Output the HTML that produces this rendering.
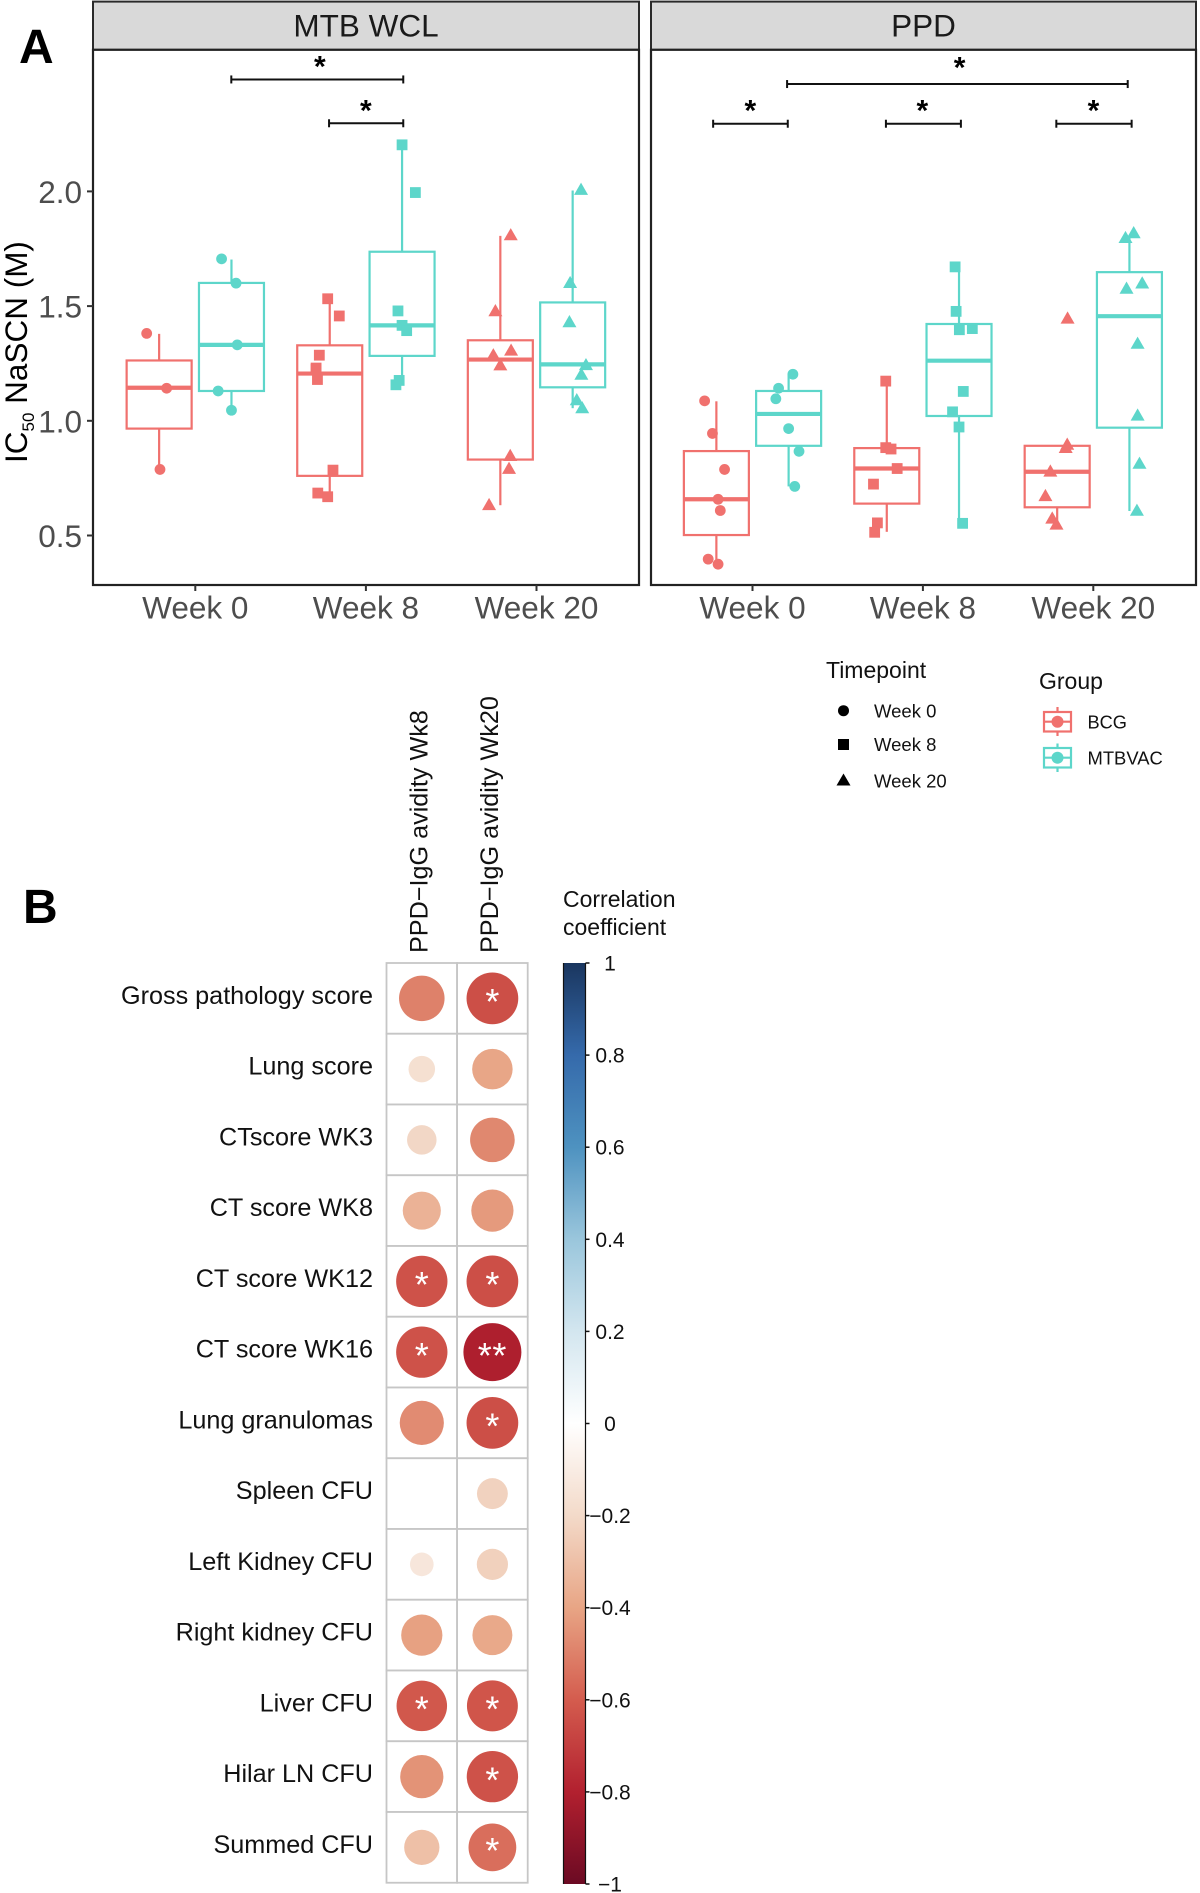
<!DOCTYPE html>
<html lang="en">
<head>
<meta charset="utf-8">
<title>IC50 NaSCN boxplots and correlation matrix</title>
<style>
html,body{margin:0;padding:0;background:#fff}
svg{display:block;font-family:"Liberation Sans",Arial,sans-serif}
</style>
</head>
<body>
<svg id="fig" xmlns="http://www.w3.org/2000/svg" width="1200" height="1893" viewBox="0 0 1200 1893">
<defs>
<linearGradient id="cbar" x1="0" y1="1" x2="0" y2="0"></linearGradient>
</defs>
<rect x="0" y="0" width="1200" height="1893" fill="#fff"/>
<text x="19" y="63" font-size="48" font-weight="bold" fill="#000">A</text>
<text x="23" y="923" font-size="48" font-weight="bold" fill="#000">B</text>
<text transform="translate(27,463) rotate(-90)" font-size="31.5" fill="#000">IC<tspan dy="7" font-size="17">50</tspan><tspan dy="-7"> NaSCN (M)</tspan></text>

<g>
<text x="826" y="678" font-size="23" fill="#111">Timepoint</text>
<circle cx="843.5" cy="710.7" r="5.5" fill="#000"/>
<rect x="838" y="739" width="11" height="11" fill="#000"/>
<polygon points="836.5,785.5 850.5,785.5 843.5,773.5" fill="#000"/>
<text x="874" y="717.5" font-size="18.5" fill="#111">Week 0</text>
<text x="874" y="751" font-size="18.5" fill="#111">Week 8</text>
<text x="874" y="787.5" font-size="18.5" fill="#111">Week 20</text>
</g>

<g>
<text x="1039" y="689" font-size="23" fill="#111">Group</text>
<g fill="none" stroke="#F0716E" stroke-width="2.2">
<line x1="1057.5" x2="1057.5" y1="707" y2="736"/>
<rect x="1044" y="712" width="27" height="19.5" fill="#fff"/>
<line x1="1044" x2="1071" y1="721.7" y2="721.7"/>
<circle cx="1057.5" cy="721.7" r="6" fill="#F0716E" stroke="none"/>
</g>
<g fill="none" stroke="#5DD6CA" stroke-width="2.2">
<line x1="1057.5" x2="1057.5" y1="743.5" y2="772"/>
<rect x="1044" y="748" width="27" height="19.5" fill="#fff"/>
<line x1="1044" x2="1071" y1="757.7" y2="757.7"/>
<circle cx="1057.5" cy="757.7" r="6" fill="#5DD6CA" stroke="none"/>
</g>
<text x="1087.5" y="728.3" font-size="18.2" fill="#111">BCG</text>
<text x="1087.5" y="764.3" font-size="18.4" fill="#111">MTBVAC</text>
</g>

<text x="563" y="907" font-size="23" fill="#111">Correlation</text>
<text x="563" y="935" font-size="23" fill="#111">coefficient</text>
</svg>

<script>
// ---------- Panel A data ----------
const weeks = ['Week 0', 'Week 8', 'Week 20'];
const yTicks = [0.5, 1.0, 1.5, 2.0];
const yTickLabels = ['0.5', '1.0', '1.5', '2.0'];
const panelTitles = ['MTB WCL', 'PPD'];

// box stats per week: low whisker, q1, median, q3, high whisker
const wclBcgBox = [[0.788, 0.966, 1.144, 1.263, 1.379], [0.669, 0.760, 1.206, 1.329, 1.532], [0.632, 0.831, 1.267, 1.351, 1.806]];
const wclMtbBox = [[1.046, 1.130, 1.331, 1.601, 1.703], [1.157, 1.283, 1.416, 1.737, 2.203], [1.055, 1.146, 1.246, 1.516, 2.004]];
const ppdBcgBox = [[0.375, 0.502, 0.658, 0.868, 1.085], [0.516, 0.639, 0.792, 0.881, 1.173], [0.530, 0.623, 0.778, 0.891, 0.891]];
const ppdMtbBox = [[0.714, 0.891, 1.030, 1.130, 1.203], [0.553, 1.021, 1.262, 1.422, 1.671], [0.607, 0.970, 1.456, 1.648, 1.802]];

// individual animals per week
const wclBcgValues = [[1.381, 1.142, 0.788], [1.532, 1.457, 1.286, 1.230, 1.224, 1.180, 0.785, 0.685, 0.669], [1.813, 1.482, 1.310, 1.290, 1.246, 0.851, 0.795, 0.637]];
const wclBcgJitter = [[-0.073, 0.044, 0.005], [-0.012, 0.056, -0.061, -0.08, -0.08, -0.072, 0.019, -0.07, -0.012], [0.061, -0.029, 0.063, -0.041, 0, 0.058, 0.051, -0.066]];
const wclMtbValues = [[1.706, 1.600, 1.331, 1.130, 1.046], [2.203, 1.995, 1.479, 1.416, 1.393, 1.176, 1.157], [2.011, 1.605, 1.434, 1.247, 1.205, 1.094, 1.059]];
const wclMtbJitter = [[-0.058, 0.027, 0.034, -0.078, 0], [0, 0.078, -0.024, 0, 0.027, -0.017, -0.036], [0.049, -0.015, -0.019, 0.078, 0.051, 0.024, 0.056]];
const ppdBcgValues = [[1.087, 0.945, 0.788, 0.658, 0.609, 0.397, 0.375], [1.173, 0.883, 0.877, 0.792, 0.724, 0.555, 0.514], [1.450, 0.900, 0.886, 0.783, 0.676, 0.578, 0.552]];
const ppdBcgJitter = [[-0.069, -0.023, 0.048, 0.01, 0.023, -0.048, 0.01], [-0.006, -0.006, 0.025, 0.061, -0.078, -0.055, -0.071], [0.061, 0.059, 0.05, -0.04, -0.069, -0.029, -0.004]];
const ppdMtbValues = [[1.203, 1.142, 1.096, 0.966, 0.867, 0.714], [1.671, 1.477, 1.397, 1.402, 1.128, 1.039, 0.973, 0.553], [1.822, 1.801, 1.603, 1.580, 1.340, 1.027, 0.817, 0.612]];
const ppdMtbJitter = [[0.025, -0.059, -0.075, 0, 0.061, 0.036], [-0.023, -0.017, 0.002, 0.078, 0.025, -0.038, 0, 0.021], [0.025, -0.023, 0.075, -0.017, 0.048, 0.048, 0.059, 0.044]];

// significance brackets: start and end on the week axis, heights on the value axis
const wclBracketFrom = [0.211, 0.784];
const wclBracketTo = [1.219, 1.219];
const wclBracketLevel = [2.488, 2.297];
const wclStarAt = [0.730, 1.000];
const wclStarLevel = [2.501, 2.310];
const ppdBracketFrom = [0.203, -0.231, 0.783, 1.783];
const ppdBracketTo = [2.202, 0.207, 1.223, 2.225];
const ppdBracketLevel = [2.468, 2.295, 2.295, 2.295];
const ppdStarAt = [1.215, -0.013, 0.997, 2.001];
const ppdStarLevel = [2.497, 2.308, 2.308, 2.308];

// ---------- Panel B data ----------
const rowNames = ['Gross pathology score', 'Lung score', 'CTscore WK3', 'CT score WK8', 'CT score WK12', 'CT score WK16', 'Lung granulomas', 'Spleen CFU', 'Left Kidney CFU', 'Right kidney CFU', 'Liver CFU', 'Hilar LN CFU', 'Summed CFU'];
const columnNames = ['PPD\u2212IgG avidity Wk8', 'PPD\u2212IgG avidity Wk20'];
const corrWk8 = [-0.50, -0.17, -0.21, -0.35, -0.635, -0.635, -0.47, 0, -0.135, -0.41, -0.615, -0.45, -0.30];
const corrWk20 = [-0.645, -0.395, -0.48, -0.43, -0.645, -0.81, -0.645, -0.23, -0.235, -0.385, -0.625, -0.635, -0.55];
const sigWk8 = ['', '', '', '', '*', '*', '', '', '', '', '*', '', ''];
const sigWk20 = ['*', '', '', '', '*', '**', '*', '', '', '', '*', '*', '*'];
const colorbarTicks = [1, 0.8, 0.6, 0.4, 0.2, 0, -0.2, -0.4, -0.6, -0.8, -1];
const colorbarTickLabels = ['1', '0.8', '0.6', '0.4', '0.2', '0', '\u22120.2', '\u22120.4', '\u22120.6', '\u22120.8', '\u22121'];
const paletteValues = [-1, -0.8, -0.6, -0.4, -0.2, 0, 0.2, 0.4, 0.6, 0.8, 1];
const paletteColors = ['#6B0A23', '#B2202F', '#D45C4E', '#E8A585', '#F3DAC9', '#FFFFFF', '#D3E6EF', '#9AC6DC', '#4E92C0', '#356AAB', '#1A365F'];

// ---------- Helpers ----------
const NS = 'http://www.w3.org/2000/svg';
const fig = document.getElementById('fig');
const BCG = '#F0716E';
const MTB = '#5DD6CA';
const TEXT_GREY = '#4D4D4D';

function make(tag, attrs, parent, text) {
  const el = document.createElementNS(NS, tag);
  for (const k in attrs) el.setAttribute(k, attrs[k]);
  if (text !== undefined) el.textContent = text;
  parent.appendChild(el);
  return el;
}

const yScale = v => 535.5 - (v - 0.5) * 229.4;
const PANEL_TOP = 49.8;
const PANEL_BOTTOM = 585;
const DODGE = 0.212;
const BOX_W = 65;

function drawMark(group, weekIndex, cx, cy, color) {
  let el;
  if (weekIndex === 0) {
    el = make('circle', {cx: cx, cy: cy, r: 5.4, fill: color}, group);
  } else if (weekIndex === 1) {
    el = make('rect', {x: cx - 5.4, y: cy - 5.4, width: 10.8, height: 10.8, fill: color}, group);
  } else {
    el = make('polygon', {points: `${cx - 7},${cy + 6} ${cx + 7},${cy + 6} ${cx},${cy - 6.2}`, fill: color}, group);
  }
  return el;
}

function drawGroup(panelGroup, xScale, boxes, values, jitter, color, offset, label) {
  boxes.forEach((b, w) => {
    const c = xScale(w + offset);
    const g = make('g', {fill: 'none', stroke: color, 'stroke-width': 2.2}, panelGroup);
    
    
    make('line', {x1: c, x2: c, y1: yScale(b[4]), y2: yScale(b[3])}, g);
    make('line', {x1: c, x2: c, y1: yScale(b[1]), y2: yScale(b[0])}, g);
    make('rect', {x: c - BOX_W / 2, y: yScale(b[3]), width: BOX_W, height: yScale(b[1]) - yScale(b[3])}, g);
    make('line', {x1: c - BOX_W / 2, x2: c + BOX_W / 2, y1: yScale(b[2]), y2: yScale(b[2]), 'stroke-width': 4.2}, g);
  });
  values.forEach((vals, w) => {
    vals.forEach((v, i) => {
      const mark = drawMark(panelGroup, w, xScale(w + offset + jitter[w][i]), yScale(v), color);
      
      
    });
  });
}

function drawBrackets(panelGroup, xScale, from, to, level, starAt, starLevel) {
  level.forEach((lv, i) => {
    const g = make('g', {}, panelGroup);
    
    
    const a = xScale(from[i]);
    const b = xScale(to[i]);
    const y = yScale(lv);
    make('line', {x1: a, x2: b, y1: y, y2: y, stroke: '#111', 'stroke-width': 2}, g);
    make('line', {x1: a, x2: a, y1: y - 4, y2: y + 4, stroke: '#111', 'stroke-width': 2}, g);
    make('line', {x1: b, x2: b, y1: y - 4, y2: y + 4, stroke: '#111', 'stroke-width': 2}, g);
    make('text', {x: xScale(starAt[i]), y: yScale(starLevel[i]), 'font-size': 30, 'font-weight': 'bold', 'text-anchor': 'middle', fill: '#000'}, g, '*');
  });
}

function drawPanel(index, left, right, xScale, bcgBox, mtbBox, bcgVals, bcgJit, mtbVals, mtbJit, bFrom, bTo, bLevel, bStar, bStarLevel) {
  const slug = index === 0 ? 'mtb-wcl' : 'ppd';
  const g = make('g', {}, fig);
  
  

  const strip = make('rect', {x: left, y: 1.6, width: right - left, height: PANEL_TOP - 1.6, fill: '#D9D9D9', stroke: '#2A2A2A', 'stroke-width': 2}, g);
  
  

  const title = make('text', {x: (left + right) / 2, y: 36.5, 'font-size': 31.5, 'text-anchor': 'middle', fill: '#1A1A1A'}, g, panelTitles[index]);
  
  

  const frame = make('rect', {x: left, y: PANEL_TOP, width: right - left, height: PANEL_BOTTOM - PANEL_TOP, fill: '#fff', stroke: '#222', 'stroke-width': 2.2}, g);
  
  

  weeks.forEach((wk, i) => {
    const x = xScale(i);
    const tick = make('line', {x1: x, x2: x, y1: PANEL_BOTTOM, y2: PANEL_BOTTOM + 6, stroke: '#333', 'stroke-width': 2}, g);
    
    
    const label = make('text', {x: x, y: PANEL_BOTTOM + 33.5, 'font-size': 31.5, 'text-anchor': 'middle', fill: TEXT_GREY}, g, wk);
    
    
  });

  if (index === 0) {
    yTicks.forEach((t, i) => {
      const y = yScale(t);
      const tick = make('line', {x1: left - 6, x2: left, y1: y, y2: y, stroke: '#333', 'stroke-width': 2}, g);
      
      
      const label = make('text', {x: left - 11, y: y + 11.5, 'font-size': 31.5, 'text-anchor': 'end', fill: TEXT_GREY}, g, yTickLabels[i]);
      
      
    });
  }

  drawGroup(g, xScale, bcgBox, bcgVals, bcgJit, BCG, -DODGE, `bcg-${slug}`);
  drawGroup(g, xScale, mtbBox, mtbVals, mtbJit, MTB, DODGE, `mtbvac-${slug}`);
  drawBrackets(g, xScale, bFrom, bTo, bLevel, bStar, bStarLevel);
}

const xLeft = c => 195.3 + 170.6 * c;
const xRight = c => 752.5 + 170.4 * c;

drawPanel(0, 93, 639, xLeft, wclBcgBox, wclMtbBox, wclBcgValues, wclBcgJitter, wclMtbValues, wclMtbJitter, wclBracketFrom, wclBracketTo, wclBracketLevel, wclStarAt, wclStarLevel);
drawPanel(1, 651, 1196, xRight, ppdBcgBox, ppdMtbBox, ppdBcgValues, ppdBcgJitter, ppdMtbValues, ppdMtbJitter, ppdBracketFrom, ppdBracketTo, ppdBracketLevel, ppdStarAt, ppdStarLevel);

// ---------- Correlation matrix ----------
const GRID_LEFT = 386.5;
const CELL_W = 70.6;
const GRID_TOP = 963;
const CELL_H = 70.75;
const FULL_RADIUS = 32.2;

function hexToRgb(h) {
  return [parseInt(h.slice(1, 3), 16), parseInt(h.slice(3, 5), 16), parseInt(h.slice(5, 7), 16)];
}
function colorFor(v) {
  for (let i = 0; i < paletteValues.length - 1; i++) {
    if (v <= paletteValues[i + 1]) {
      const t = (v - paletteValues[i]) / (paletteValues[i + 1] - paletteValues[i]);
      const a = hexToRgb(paletteColors[i]);
      const b = hexToRgb(paletteColors[i + 1]);
      const mix = a.map((x, k) => Math.round(x + (b[k] - x) * t));
      return `rgb(${mix[0]},${mix[1]},${mix[2]})`;
    }
  }
  return paletteColors[paletteColors.length - 1];
}

const matrix = make('g', {}, fig);



columnNames.forEach((name, c) => {
  const x = GRID_LEFT + CELL_W * (c + 0.5) + 5.5;
  const label = make('text', {transform: `translate(${x},953) rotate(-90)`, 'font-size': 25.2, fill: '#111'}, matrix, name);
  
  
});

const columns = [corrWk8, corrWk20];
const columnStars = [sigWk8, sigWk20];

rowNames.forEach((name, r) => {
  const cy = GRID_TOP + CELL_H * (r + 0.5);
  const label = make('text', {x: 373, y: cy + 5.5, 'font-size': 25.2, 'text-anchor': 'end', fill: '#111'}, matrix, name);
  
  
  columns.forEach((col, c) => {
    const cx = GRID_LEFT + CELL_W * (c + 0.5);
    const cell = make('rect', {x: GRID_LEFT + CELL_W * c, y: GRID_TOP + CELL_H * r, width: CELL_W, height: CELL_H, fill: '#fff', stroke: '#C6C6C6', 'stroke-width': 1.8}, matrix);
    
    
    const v = col[r];
    if (v !== 0) {
      const dot = make('circle', {cx: cx, cy: cy, r: Math.sqrt(Math.abs(v)) * FULL_RADIUS, fill: colorFor(v)}, matrix);
      
      
    }
  });
});

// stars are painted after every circle so that no neighbouring cell covers them
rowNames.forEach((name, r) => {
  const cy = GRID_TOP + CELL_H * (r + 0.5);
  columnStars.forEach((stars, c) => {
    const star = stars[r];
    if (star) {
      const cx = GRID_LEFT + CELL_W * (c + 0.5);
      const mark = make('text', {x: cx, y: cy + 15.8, 'font-size': 36, 'text-anchor': 'middle', fill: '#fff', 'letter-spacing': star.length > 1 ? 0.7 : 0}, matrix, star);
      
      
    }
  });
});

// ---------- Colour bar ----------
const cbY = v => 1423.5 - 460.5 * v;
const grad = document.getElementById('cbar');
paletteValues.forEach((v, i) => {
  make('stop', {offset: ((v + 1) / 2 * 100) + '%', 'stop-color': paletteColors[i]}, grad);
});
const cbGroup = make('g', {}, fig);


const cbRect = make('rect', {x: 563.5, y: cbY(1), width: 22, height: cbY(-1) - cbY(1), fill: 'url(#cbar)'}, cbGroup);


const cbEdgeL = make('line', {x1: 563.5, x2: 563.5, y1: cbY(1), y2: cbY(-1), stroke: '#111', 'stroke-width': 1.2}, cbGroup);


const cbEdgeR = make('line', {x1: 585.5, x2: 585.5, y1: cbY(1), y2: cbY(-1), stroke: '#111', 'stroke-width': 1.2}, cbGroup);


colorbarTicks.forEach((t, i) => {
  const y = cbY(t);
  const tick = make('line', {x1: 585.5, x2: 589.5, y1: y, y2: y, stroke: '#111', 'stroke-width': 1.5}, cbGroup);
  
  
  const label = make('text', {x: 610, y: y + 7.5, 'font-size': 21, 'text-anchor': 'middle', fill: '#111'}, cbGroup, colorbarTickLabels[i]);
  
  
});
</script>
</body>
</html>
